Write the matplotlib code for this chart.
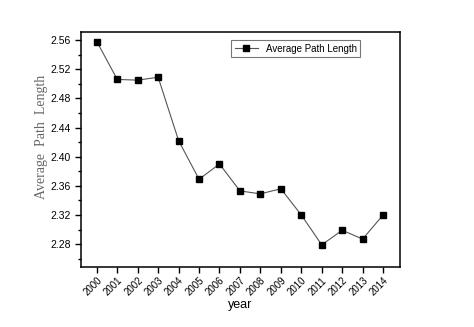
import matplotlib
matplotlib.use('Agg')
import matplotlib.pyplot as plt
from matplotlib.ticker import MultipleLocator

years = ['2000', '2001', '2002', '2003', '2004', '2005', '2006', '2007',
         '2008', '2009', '2010', '2011', '2012', '2013', '2014']
apl = [2.558, 2.506, 2.505, 2.509, 2.422, 2.369, 2.390, 2.353,
       2.349, 2.356, 2.320, 2.279, 2.299, 2.287, 2.320]

plt.rcParams['font.family'] = ['Liberation Sans', 'DejaVu Sans']

fig = plt.figure(figsize=(4.74, 3.27), dpi=100)
ax = fig.add_axes([0.171, 0.183, 0.673, 0.719])

x = list(range(len(years)))
ax.plot(x, apl, color='#555555', linewidth=0.8, marker='s', markersize=4.5,
        markerfacecolor='black', markeredgecolor='black', label='Average Path Length')

ax.set_xlim(-0.77, 14.83)
ax.set_ylim(2.2484, 2.571)
ax.set_xticks(x)
ax.set_xticklabels(years, rotation=45, fontsize=7, ha='right', rotation_mode='anchor')
ax.yaxis.set_minor_locator(MultipleLocator(0.02))
ax.set_yticks([2.28, 2.32, 2.36, 2.40, 2.44, 2.48, 2.52, 2.56])
ax.set_yticklabels(['2.28', '2.32', '2.36', '2.40', '2.44', '2.48', '2.52', '2.56'], fontsize=7.5)
ax.tick_params(axis='both', which='major', direction='out', length=4, width=1)
ax.tick_params(axis='x', which='major', pad=2)
ax.tick_params(axis='y', which='minor', direction='out', length=2.5, width=1)
for s in ax.spines.values():
    s.set_linewidth(1.1)

ax.set_xlabel('year', fontsize=9, labelpad=1)
ax.set_ylabel('Average  Path  Length', fontsize=10, family='Liberation Serif',
              color='#666666')
ax.yaxis.set_label_coords(-0.105, 0.555)

leg = ax.legend(loc='upper right', fontsize=7, frameon=True, fancybox=False,
                edgecolor='#555555', handlelength=2.4, borderpad=0.35,
                bbox_to_anchor=(0.89, 0.985))
leg.get_frame().set_linewidth(0.8)

fig.savefig('out.png', dpi=100)
